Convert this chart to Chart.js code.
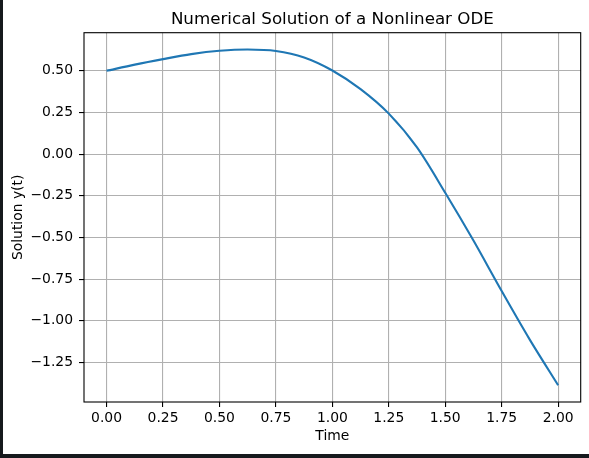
<!DOCTYPE html>
<html>
<head>
<meta charset="utf-8">
<script src="https://cdn.jsdelivr.net/npm/chart.js@4.4.0/dist/chart.umd.min.js"></script>
<style>
  html, body { margin: 0; padding: 0; background: #16191d; }
  #frame {
    position: absolute; left: 0; top: 0;
    width: 589px; height: 458px; box-sizing: border-box;
    border-left: 3px solid #16191d; border-bottom: 4px solid #16191d;
    background: #fff;
  }
  #wrap { position: relative; width: 586px; height: 454px; }
</style>
</head>
<body>
<div id="frame"><div id="wrap"><canvas id="odeChart"></canvas></div></div>
<script>
// === DATA ===
const tValues = [0, 0.125, 0.25, 0.375, 0.5, 0.625, 0.75, 0.875, 1.0,
                 1.125, 1.25, 1.375, 1.5, 1.625, 1.75, 1.875, 2.0];
const yValues = [0.500, 0.537, 0.570, 0.600, 0.620, 0.628, 0.619, 0.580, 0.502,
                 0.390, 0.243, 0.040, -0.232, -0.519, -0.822, -1.115, -1.387];
const xTicks = [0, 0.25, 0.5, 0.75, 1.0, 1.25, 1.5, 1.75, 2.0];
const yTicks = [-1.25, -1.0, -0.75, -0.5, -0.25, 0, 0.25, 0.5];

const chartTitle = 'Numerical Solution of a Nonlinear ODE';
const xLabel = 'Time';
const yLabel = 'Solution y(t)';

// matplotlib-like 5% margins
const xLo = Math.min(...tValues), xHi = Math.max(...tValues);
const yLo = Math.min(...yValues), yHi = Math.max(...yValues);
const xPad = 0.05 * (xHi - xLo), yPad = 0.05 * (yHi - yLo);

const FONT = 'DejaVu Sans';
const fmt = v => (v < 0 ? '\u2212' : '') + Math.abs(v).toFixed(2);

// draws the title over the plot area and the four spines
const framePlugin = {
  id: 'frame',
  afterDraw(chart) {
    const { ctx, chartArea: a } = chart;
    ctx.save();
    ctx.strokeStyle = '#000';
    ctx.lineWidth = 1.1;
    ctx.strokeRect(a.left, a.top, a.right - a.left, a.bottom - a.top);
    ctx.fillStyle = '#000';
    ctx.font = `16.7px "${FONT}"`;
    ctx.textAlign = 'center';
    ctx.textBaseline = 'alphabetic';
    ctx.fillText(chartTitle, (a.left + a.right) / 2, a.top - 8.3);
    ctx.restore();
  }
};

const ctx = document.getElementById('odeChart').getContext('2d');
new Chart(ctx, {
  type: 'line',
  data: {
    datasets: [{
      data: tValues.map((t, i) => ({ x: t, y: yValues[i] })),
      borderColor: '#1f77b4',
      borderWidth: 2.1,
      pointRadius: 0,
      fill: false,
      tension: 0.3
    }]
  },
  options: {
    responsive: true,
    maintainAspectRatio: false,
    animation: false,
    layout: { padding: { top: 32.7, right: 8.3, bottom: 0, left: 0 } },
    plugins: {
      legend: { display: false },
      tooltip: { enabled: false },
      title: { display: false }
    },
    scales: {
      x: {
        type: 'linear',
        min: xLo - xPad,
        max: xHi + xPad,
        afterBuildTicks: s => { s.ticks = xTicks.map(v => ({ value: v })); },
        afterFit: s => { s.height = 52; },
        grid: { color: '#b0b0b0', lineWidth: 1.1, tickColor: '#000', tickLength: 5, tickWidth: 1.1 },
        border: { display: false },
        ticks: {
          color: '#000', font: { family: FONT, size: 13.9 }, padding: 3,
          maxRotation: 0, autoSkip: false, callback: v => fmt(v)
        },
        title: {
          display: true, text: xLabel, color: '#000',
          font: { family: FONT, size: 13.9 }, padding: { top: 0, bottom: 9 }
        }
      },
      y: {
        type: 'linear',
        min: yLo - yPad,
        max: yHi + yPad,
        afterBuildTicks: s => { s.ticks = yTicks.map(v => ({ value: v })); },
        afterFit: s => { s.width = 81; },
        grid: { color: '#b0b0b0', lineWidth: 1.1, tickColor: '#000', tickLength: 5, tickWidth: 1.1 },
        border: { display: false },
        ticks: {
          color: '#000', font: { family: FONT, size: 13.9 }, padding: 6,
          autoSkip: false, callback: v => fmt(v)
        },
        title: {
          display: true, text: yLabel, color: '#000',
          font: { family: FONT, size: 13.9 }, padding: { top: 7, bottom: 0 }
        }
      }
    }
  },
  plugins: [framePlugin]
});
</script>
</body>
</html>
